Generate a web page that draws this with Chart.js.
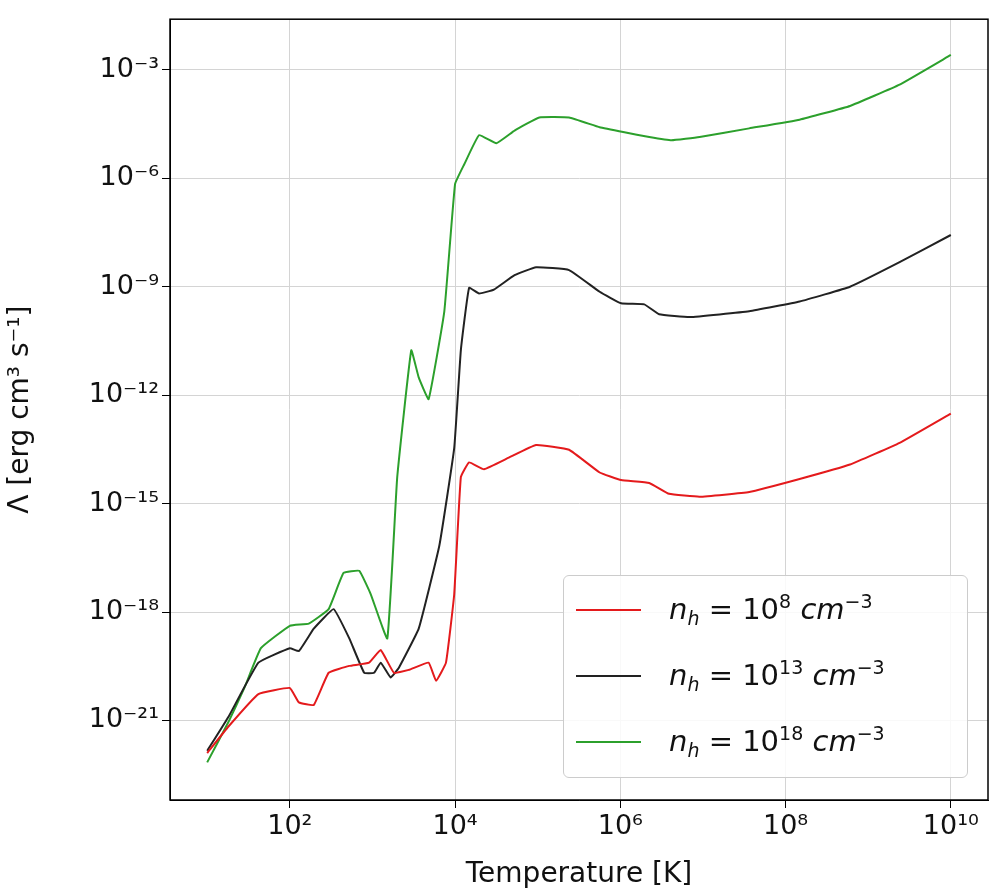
<!DOCTYPE html>
<html>
<head>
<meta charset="utf-8">
<script src="https://cdn.jsdelivr.net/npm/chart.js@4.4.0/dist/chart.umd.min.js"></script>
<style>
  body { margin: 0; background: #fff; font-family: "DejaVu Sans", sans-serif; }
  #wrap { position: relative; width: 990px; height: 896px; }
  #legenda {
    position: absolute; left: 563px; top: 575px; width: 405px; height: 203px;
    border: 1px solid #ccc; border-radius: 6px; background: rgba(255,255,255,0.85);
    box-sizing: border-box; font-size: 29px; color: #111;
  }
  .item { position: absolute; left: 12px; height: 60px; display: flex; align-items: center; }
  .item span.linha { display: inline-block; width: 65px; height: 2px; margin-right: 28px; }
  sup { font-size: 19px; }
  sub { font-size: 19px; }
</style>
</head>
<body>
<div id="wrap">
  <canvas id="grafico" width="990" height="896"></canvas>
  <div id="legenda">
    <div class="item" style="top:4px"><span class="linha" style="background:#e41a1c"></span><span><i>n</i><sub><i>h</i></sub> = 10<sup>8</sup> <i>cm</i><sup>−3</sup></span></div>
    <div class="item" style="top:70px"><span class="linha" style="background:#222"></span><span><i>n</i><sub><i>h</i></sub> = 10<sup>13</sup> <i>cm</i><sup>−3</sup></span></div>
    <div class="item" style="top:136px"><span class="linha" style="background:#2ca02c"></span><span><i>n</i><sub><i>h</i></sub> = 10<sup>18</sup> <i>cm</i><sup>−3</sup></span></div>
  </div>
</div>
<script>
// log10 dos valores
const logT_vermelho = [1, 1.26, 1.62, 2.0, 2.11, 2.29, 2.47, 2.72, 2.96, 3.1, 3.26, 3.44, 3.68, 3.77, 3.89, 3.99, 4.07, 4.17, 4.35, 4.65, 4.98, 5.38, 5.75, 6.01, 6.35, 6.59, 6.96, 7.56, 8.17, 8.78, 9.38, 10]
const logL_vermelho = [-21.9, -21.16, -20.27, -20.1, -20.5, -20.57, -19.68, -19.49, -19.4, -19.05, -19.68, -19.6, -19.4, -19.9, -19.4, -17.5, -14.27, -13.86, -14.05, -13.73, -13.38, -13.51, -14.14, -14.35, -14.43, -14.73, -14.81, -14.68, -14.32, -13.92, -13.32, -12.51]

const logT_preto = [1, 1.26, 1.62, 2.0, 2.11, 2.29, 2.53, 2.72, 2.9, 3.02, 3.1, 3.22, 3.32, 3.56, 3.81, 3.99, 4.07, 4.17, 4.29, 4.47, 4.72, 4.98, 5.38, 5.75, 6.01, 6.29, 6.47, 6.84, 7.56, 8.17, 8.78, 9.38, 10]
const logL_preto = [-21.84, -20.89, -19.4, -19.0, -19.08, -18.46, -17.92, -18.73, -19.68, -19.68, -19.4, -19.81, -19.54, -18.46, -16.16, -13.46, -10.76, -9.03, -9.19, -9.08, -8.68, -8.46, -8.54, -9.14, -9.46, -9.49, -9.76, -9.84, -9.68, -9.41, -9.0, -8.32, -7.57]

const logT_verde = [1, 1.26, 1.45, 1.65, 2.0, 2.23, 2.47, 2.65, 2.84, 2.98, 3.18, 3.3, 3.47, 3.56, 3.68, 3.87, 4.0, 4.11, 4.29, 4.5, 4.72, 5.02, 5.38, 5.75, 6.05, 6.35, 6.62, 6.96, 7.56, 8.17, 8.78, 9.38, 10]
const logL_verde = [-22.16, -21.03, -20.1, -19.0, -18.38, -18.32, -17.92, -16.92, -16.86, -17.51, -18.73, -14.27, -10.76, -11.51, -12.11, -9.68, -6.16, -5.62, -4.81, -5.03, -4.68, -4.32, -4.32, -4.59, -4.73, -4.86, -4.95, -4.86, -4.62, -4.38, -4.0, -3.41, -2.59]

const ticksX = [2, 4, 6, 8, 10]
const ticksY = [-21, -18, -15, -12, -9, -6, -3]

const sup = { '-': '⁻', '0': '⁰', '1': '¹', '2': '²', '3': '³', '4': '⁴', '5': '⁵', '6': '⁶', '7': '⁷', '8': '⁸', '9': '⁹' }
function potencia(v) {
    const e = Math.round(Math.log10(v))
    return '10' + String(e).split('').map(c => sup[c]).join('')
}

function pontos(lx, ly) {
    return lx.map((x, i) => ({ x: Math.pow(10, x), y: Math.pow(10, ly[i]) }))
}

const moldura = {
    id: 'moldura',
    afterDraw(c) {
        const a = c.chartArea, ctx = c.ctx
        ctx.save()
        ctx.strokeStyle = '#000'
        ctx.lineWidth = 1.5
        ctx.strokeRect(a.left, a.top, a.right - a.left, a.bottom - a.top)
        ctx.restore()
    }
}

const fonte = { family: 'DejaVu Sans', size: 27 }

new Chart(document.getElementById('grafico'), {
    type: 'line',
    data: {
        datasets: [
            { data: pontos(logT_vermelho, logL_vermelho), borderColor: '#e41a1c', borderWidth: 2, pointRadius: 0, tension: 0.1 },
            { data: pontos(logT_preto, logL_preto), borderColor: '#222', borderWidth: 2, pointRadius: 0, tension: 0.1 },
            { data: pontos(logT_verde, logL_verde), borderColor: '#2ca02c', borderWidth: 2, pointRadius: 0, tension: 0.1 }
        ]
    },
    plugins: [moldura],
    options: {
        responsive: false,
        animation: false,
        layout: { padding: { top: -8, right: 2, left: 0, bottom: 0 } },
        plugins: { legend: { display: false }, tooltip: { enabled: false } },
        scales: {
            x: {
                type: 'logarithmic',
                min: Math.pow(10, 0.55),
                max: Math.pow(10, 10.45),
                afterBuildTicks: s => { s.ticks = ticksX.map(e => ({ value: Math.pow(10, e) })) },
                afterFit: s => { s.height = 96 },
                ticks: { callback: v => potencia(v), color: '#111', font: fonte, maxRotation: 0, autoSkip: false },
                grid: { color: '#d4d4d4', tickColor: '#000', tickLength: 8 },
                border: { color: '#000' },
                title: { display: true, text: 'Temperature [K]', color: '#111', font: { family: 'DejaVu Sans', size: 28 }, padding: { top: -6 } }
            },
            y: {
                type: 'logarithmic',
                min: Math.pow(10, -23.2),
                max: Math.pow(10, -1.6),
                afterBuildTicks: s => { s.ticks = ticksY.map(e => ({ value: Math.pow(10, e) })) },
                afterFit: s => { s.width = 170 },
                ticks: { callback: v => potencia(v), color: '#111', font: fonte, autoSkip: false },
                grid: { color: '#d4d4d4', tickColor: '#000', tickLength: 8 },
                border: { color: '#000' },
                title: { display: true, text: 'Λ [erg cm³ s⁻¹]', color: '#111', font: { family: 'DejaVu Sans', size: 28 } }
            }
        }
    }
})
</script>
</body>
</html>
